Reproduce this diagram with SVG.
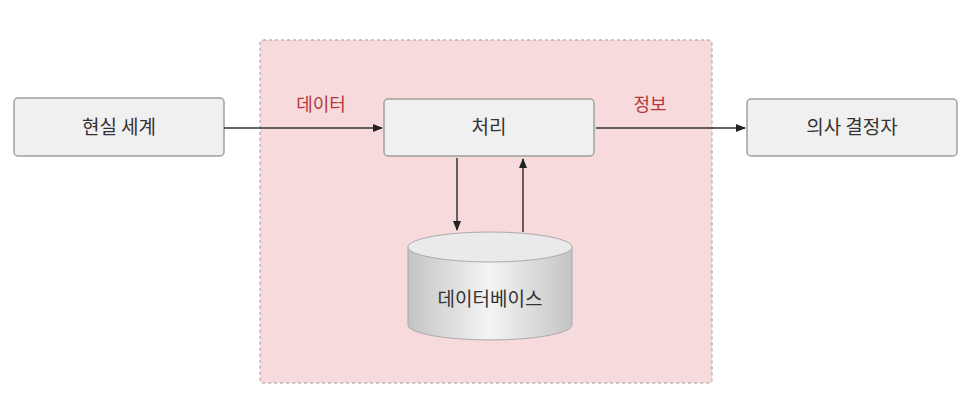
<svg xmlns="http://www.w3.org/2000/svg" width="972" height="420" viewBox="0 0 972 420">
<style>
.box{fill:#f0f0f0;stroke:#a0a0a0;stroke-width:1.5}
.t{font-family:"Noto Sans CJK KR",sans-serif;font-size:19px;fill:#333;text-anchor:middle}
.r{font-family:"Noto Sans CJK KR",sans-serif;font-size:18px;fill:#b5383c;text-anchor:middle}
.c{stroke:#333;stroke-width:1.5;fill:none;marker-end:url(#a)}
</style>
<defs>
<marker id="a" markerWidth="10" markerHeight="10" refX="9" refY="5" orient="auto" markerUnits="userSpaceOnUse"><path d="M0,1 L10,5 L0,9 Z" fill="#222"/></marker>
<linearGradient id="g" x1="0" x2="1"><stop offset="0" stop-color="#c4c4c4"/><stop offset="0.5" stop-color="#f4f4f4"/><stop offset="1" stop-color="#c4c4c4"/></linearGradient>
</defs>
<rect width="972" height="420" fill="#fff"/>
<rect id="area" x="260" y="40" width="452" height="343" rx="3" fill="#f7dadc" stroke="#999" stroke-dasharray="3,3"/>
<g id="n1"><rect class="box" x="14" y="98" width="210" height="58" rx="4"/><text class="t" x="119" y="134">현실 세계</text></g>
<g id="n2"><rect class="box" x="384" y="99" width="210" height="57" rx="4"/><text class="t" x="489" y="134">처리</text></g>
<g id="n3"><rect class="box" x="747" y="99" width="210" height="57" rx="4"/><text class="t" x="852" y="134">의사 결정자</text></g>
<g id="db">
<path d="M408,247 L408,325 A82,15 0 0 0 572,325 L572,247 Z" fill="url(#g)" stroke="#aaa"/>
<ellipse cx="490" cy="247" rx="82" ry="15" fill="#eaeaea" stroke="#aaa"/>
<text class="t" x="490" y="306">데이터베이스</text>
</g>
<g id="connectors">
<path class="c" d="M224,128 L382,128"/>
<path class="c" d="M596,128 L745,128"/>
<path class="c" d="M457,158 L457,230"/>
<path class="c" d="M523,232 L523,159"/>
<text class="r" x="321" y="111">데이터</text>
<text class="r" x="650" y="111">정보</text>
</g>
</svg>
